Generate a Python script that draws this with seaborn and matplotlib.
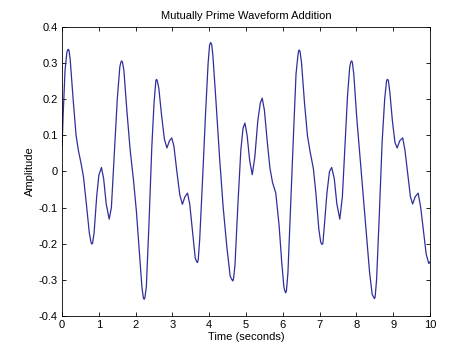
import matplotlib
matplotlib.use("Agg")
import matplotlib.pyplot as plt
import seaborn as sns
import pandas as pd

time_s = [0.00, 0.03, 0.08, 0.13, 0.15, 0.17, 0.19, 0.22, 0.30, 0.38, 0.44, 0.52, 0.58, 0.66, 0.74, 0.79, 0.81, 0.83, 0.87,
          0.94, 1.00, 1.07, 1.13, 1.20, 1.28, 1.34, 1.42, 1.50, 1.57, 1.60, 1.62, 1.64, 1.68, 1.76, 1.85, 1.94,
          2.02, 2.10, 2.17, 2.21, 2.23, 2.25, 2.29, 2.36, 2.44, 2.50, 2.55, 2.57, 2.59, 2.63, 2.70, 2.78, 2.85, 2.92, 2.98,
          3.04, 3.12, 3.20, 3.27, 3.34, 3.41, 3.47, 3.55, 3.62, 3.66, 3.68, 3.70, 3.74, 3.82, 3.90, 3.97, 4.01, 4.04, 4.07,
          4.10, 4.18, 4.28, 4.38, 4.48, 4.57, 4.62, 4.64, 4.66, 4.70, 4.78, 4.86, 4.92, 4.97, 5.03, 5.10, 5.17,
          5.24, 5.32, 5.39, 5.44, 5.50, 5.58, 5.65, 5.72, 5.81, 5.90, 5.97, 6.03, 6.06, 6.08, 6.10, 6.14, 6.21,
          6.29, 6.36, 6.41, 6.43, 6.45, 6.47, 6.51, 6.59, 6.67, 6.74, 6.83, 6.90, 6.98, 7.03, 7.05, 7.07, 7.09, 7.13, 7.20,
          7.27, 7.33, 7.40, 7.47, 7.55, 7.62, 7.69, 7.76, 7.82, 7.85, 7.87, 7.89, 7.93, 8.01, 8.10, 8.18, 8.27,
          8.36, 8.43, 8.47, 8.49, 8.51, 8.55, 8.62, 8.70, 8.77, 8.82, 8.83, 8.85, 8.87, 8.91, 8.98, 9.05, 9.11, 9.18, 9.26,
          9.32, 9.40, 9.47, 9.53, 9.60, 9.68, 9.75, 9.83, 9.90, 9.97, 10.00]
amplitude = [0.07, 0.16, 0.28, 0.33, 0.336, 0.338, 0.334, 0.31, 0.20, 0.10, 0.06, 0.02, -0.014, -0.09, -0.17, -0.198, -0.201, -0.198, -0.17,
             -0.07, -0.01, 0.011, -0.02, -0.09, -0.132, -0.10, 0.05, 0.20, 0.29, 0.303, 0.306, 0.303, 0.28, 0.17, 0.06, -0.023,
             -0.11, -0.22, -0.32, -0.350, -0.354, -0.350, -0.32, -0.15, 0.07, 0.19, 0.252, 0.255, 0.250, 0.23, 0.16, 0.09, 0.065, 0.085, 0.093,
             0.07, 0.0, -0.065, -0.091, -0.07, -0.06, -0.09, -0.17, -0.24, -0.250, -0.252, -0.245, -0.19, -0.02, 0.16, 0.30, 0.350, 0.357, 0.350,
             0.32, 0.20, 0.04, -0.10, -0.21, -0.29, -0.300, -0.303, -0.298, -0.26, -0.09, 0.06, 0.12, 0.134, 0.10, 0.03, -0.009,
             0.04, 0.14, 0.19, 0.203, 0.17, 0.08, 0.01, -0.03, -0.06, -0.15, -0.25, -0.32, -0.332, -0.336, -0.330, -0.28, -0.10,
             0.10, 0.27, 0.32, 0.334, 0.336, 0.332, 0.30, 0.19, 0.10, 0.056, 0.009, -0.06, -0.16, -0.195, -0.200, -0.202, -0.199, -0.15, -0.06,
             0.0, 0.011, -0.02, -0.09, -0.132, -0.07, 0.07, 0.21, 0.29, 0.303, 0.306, 0.303, 0.27, 0.15, 0.04, -0.06, -0.17,
             -0.28, -0.34, -0.348, -0.352, -0.348, -0.30, -0.13, 0.08, 0.20, 0.25, 0.253, 0.255, 0.252, 0.22, 0.14, 0.08, 0.065, 0.085, 0.093,
             0.06, -0.01, -0.07, -0.09, -0.07, -0.06, -0.10, -0.17, -0.23, -0.255, -0.25]

x_ticks = [0, 1, 2, 3, 4, 5, 6, 7, 8, 9, 10]
y_ticks = [-0.4, -0.3, -0.2, -0.1, 0, 0.1, 0.2, 0.3, 0.4]
y_tick_labels = ["-0.4", "-0.3", "-0.2", "-0.1", "0", "0.1", "0.2", "0.3", "0.4"]

sns.set_style("ticks")
plt.rcParams['font.family'] = ['Liberation Sans', 'DejaVu Sans']
plt.rcParams['text.color'] = 'black'
plt.rcParams['axes.labelcolor'] = 'black'
plt.rcParams['xtick.color'] = 'black'
plt.rcParams['ytick.color'] = 'black'

df = pd.DataFrame({"t": time_s, "a": amplitude}).sort_values("t")

fig = plt.figure(figsize=(4.74, 3.55), dpi=100)
ax = fig.add_axes([0.131, 0.110, 0.776, 0.814])
sns.lineplot(data=df, x="t", y="a", ax=ax, color="#2f2f9a", linewidth=0.9, sort=False)

ax.set_xlim(0, 10)
ax.set_ylim(-0.4, 0.4)
ax.set_xticks(x_ticks)
ax.set_xticklabels([str(v) for v in x_ticks])
ax.set_yticks(y_ticks)
ax.set_yticklabels(y_tick_labels)
ax.tick_params(direction="in", top=True, right=True, length=3, width=0.6, labelsize=8, pad=3)
for s in ax.spines.values():
    s.set_visible(True)
    s.set_linewidth(0.6)
    s.set_color("black")
ax.set_title("Mutually Prime Waveform Addition", fontsize=8, pad=6)
ax.set_xlabel("Time (seconds)", fontsize=8, labelpad=1)
ax.set_ylabel("Amplitude", fontsize=8, labelpad=3)

fig.savefig("out.png", dpi=100, facecolor="white")
